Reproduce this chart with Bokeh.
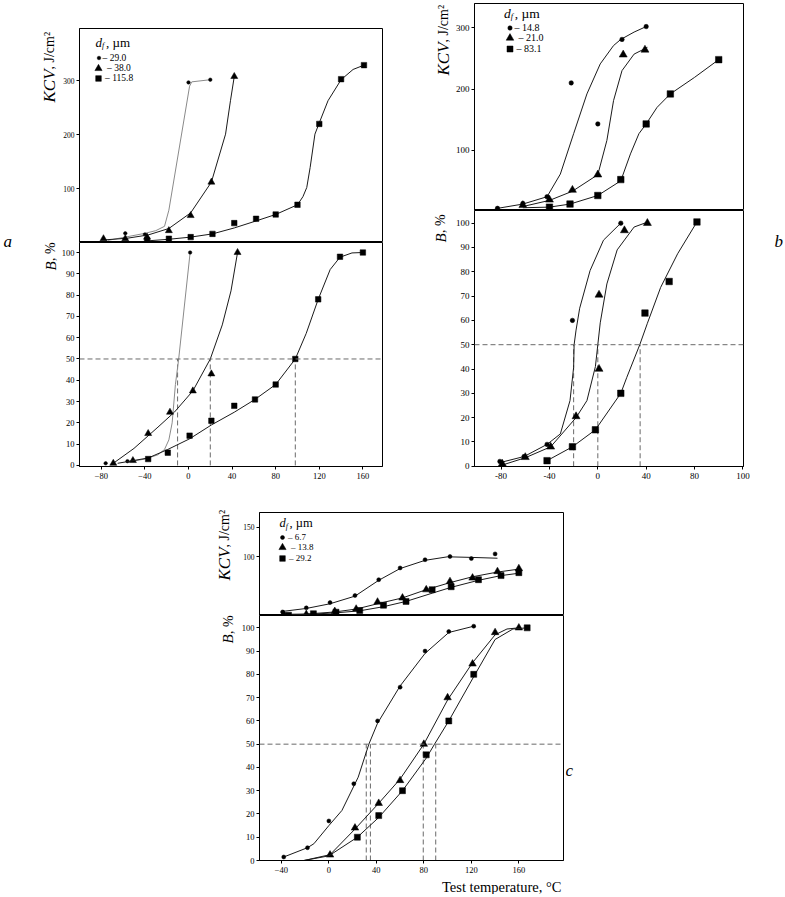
from math import pi
from bokeh.plotting import figure
from bokeh.models import FixedTicker, Span, Label, Legend, LegendItem, Range1d
from bokeh.layouts import column, row
from bokeh.embed import file_html
from bokeh.resources import INLINE
from bokeh.core.properties import value

SERIF = "Liberation Serif"
HALF = 50  # 50 % brittle fracture level

# ---------------- panel a : KCV ----------------
A_T_29 = [-58, -40, 0, 20]
A_K_29 = [17, 15, 297, 302]
A_T_38 = [-78, -58, -38, -18, 2, 21, 42]
A_K_38 = [7, 7, 10, 22, 50, 112, 308]
A_T_116 = [-38, -18, 2, 22, 42, 62, 80, 100, 120, 140, 161]
A_K_116 = [4, 7, 10, 16, 36, 44, 52, 70, 220, 303, 329]
A_CT_29 = [-74, -58, -40, -30, -22, -18, 1, 3, 20]
A_CK_29 = [4, 10, 17, 22, 30, 60, 290, 298, 302]
A_CT_38 = [-76, -56, -37, -18, 2, 21, 34, 38.5, 42]
A_CK_38 = [5, 8, 14, 26, 55, 112, 201, 263, 308]
A_CT_116 = [-38, -18, 2, 22, 42, 62, 80, 100, 105, 108.5, 111.6, 116, 120, 128, 140, 151, 161]
A_CK_116 = [3, 6, 10, 16, 27, 40, 52, 70, 85, 102, 139, 201, 222, 263, 302, 321, 329]
# ---------------- panel a : B ----------------
A_BT_29 = [-76, -56, 1.5]
A_B_29 = [1, 2, 100]
A_BT_38 = [-69, -51, -37, -17, 4, 21, 45]
A_B_38 = [1, 2.3, 15, 25, 35, 43, 100]
A_BT_116 = [-37, -19, 1, 21, 42, 61, 80, 98, 119, 139, 160]
A_B_116 = [3, 6, 14, 21, 28, 31, 38, 50, 78, 98, 100]
A_CBT_29 = [-57, -40, -28, -22, -18, -15, -12, -9, 1.5]
A_CB_29 = [1.5, 3, 5, 7.5, 12, 20, 38, 50, 100]
A_CBT_38 = [-69, -50, -28, -13, 4, 20, 31, 39, 45]
A_CB_38 = [1, 8, 18, 25, 35, 50, 66, 82, 100]
A_CBT_116 = [-65, -37, -19, 1, 21, 42, 61, 80, 98, 108, 119, 130, 139, 150, 160]
A_CB_116 = [1, 3.5, 7.5, 12.5, 19, 25, 31, 38, 50, 62, 78, 92, 97.8, 99.8, 100]
A_T50 = [-10, 20, 98]

# ---------------- panel b : KCV ----------------
B_T_148 = [-83, -62, -42, -22, 0, 20, 40]
B_K_148 = [5, 13, 24, 210, 143, 281, 302]
B_T_210 = [-62, -40, -21, 0, 21, 39]
B_K_210 = [10, 19, 35, 60, 256, 264]
B_T_831 = [-40, -23, 0, 19, 40, 60, 100]
B_K_831 = [7, 12, 26, 52, 143, 192, 248]
B_CT_148 = [-83, -62, -42, -31, -20, -9, 2, 13, 19, 30, 40]
B_CK_148 = [5, 12, 24, 61, 127, 192, 241, 271, 281, 293, 302]
B_CT_210 = [-62, -40, -21, 0, 7.5, 13, 20, 30, 41]
B_CK_210 = [8, 18, 33, 60, 116, 181, 230, 257, 268]
B_CT_831 = [-62, -40, -23, 0, 19, 27, 34, 40, 49, 60, 80, 100]
B_CK_831 = [6, 7, 12, 26, 50, 94, 127, 143, 170, 192, 219, 248]
# ---------------- panel b : B ----------------
B_BT_148 = [-81, -61, -42, -21, 19]
B_B_148 = [2, 4, 9, 60, 100]
B_BT_210 = [-79, -60, -39, -18, 1, 1, 22, 41]
B_B_210 = [1, 3.7, 8, 20.5, 40, 70.5, 97, 100]
B_BT_831 = [-42, -21, -2, 19, 39, 59, 82]
B_B_831 = [2.3, 8, 15, 30, 63, 76, 100.5]
B_CBT_148 = [-81, -61, -42, -31, -23, -20, -19.6, -18, -15, -6.4, 4.7, 19]
B_CB_148 = [1.5, 4, 9, 13.3, 27, 40.7, 50, 56, 65, 80.5, 93, 100]
B_CBT_210 = [-79, -60, -39, -18, -9, -2, 0, 2, 7.5, 16, 30, 41]
B_CB_210 = [0.5, 3.5, 8, 20, 27, 41, 50, 59, 75, 89, 98.4, 100.4]
B_CBT_831 = [-42, -21, -2, 19, 24, 34.7, 41, 52, 66, 82]
B_CB_831 = [2.3, 8, 15, 30, 36.6, 50, 58.8, 73.6, 87.4, 100.5]
B_T50 = [-20, 0, 35]

# ---------------- panel c : KCV ----------------
C_T_67 = [-39, -19, 1, 22, 42, 60, 81, 102, 120, 140]
C_K_67 = [6, 13, 22, 34, 61, 81, 95, 100.5, 97, 105]
C_T_138 = [-38, -19, 5, 23, 41, 62, 82, 102, 121, 142, 160]
C_K_138 = [2, 2, 7, 11, 23, 30, 44, 58, 64, 75, 80]
C_T_292 = [-34, -13, 6, 26, 46, 65, 87, 103, 126, 145, 160]
C_K_292 = [0.5, 3, 5.6, 8.5, 17.5, 24, 44, 49, 61, 68, 73]
C_CT_67 = [-39, -19, 1, 22, 42, 60, 81, 100, 120, 142]
C_CK_67 = [7, 12, 20, 33, 60, 80, 94, 100, 99, 97.6]
C_CT_138 = [-38, -19, 5, 23, 41, 62, 82, 102, 121, 142, 160]
C_CK_138 = [2, 2.5, 6, 11, 20, 30, 44, 56, 66, 74, 79]
C_CT_292 = [-34, -13, 6, 26, 46, 65, 87, 103, 126, 145, 160]
C_CK_292 = [1, 2.5, 4.5, 8, 15, 24, 38, 48, 60, 68, 72]
# ---------------- panel c : B ----------------
C_BT_67 = [-38, -18, 0, 21, 41, 60, 81, 101, 122]
C_B_67 = [1.5, 5.5, 17, 33, 60, 74.5, 90, 98.4, 100.7]
C_BT_138 = [1, 22, 42, 60, 80, 100, 121, 140, 160]
C_B_138 = [2.4, 14, 24.6, 34.4, 50, 70, 84.5, 98, 100]
C_BT_292 = [24, 42, 62, 82, 101, 122, 167]
C_B_292 = [10, 19.3, 30, 45.4, 60, 80, 100]
C_CBT_67 = [-38, -18, -12.6, 0, 11, 24.7, 33.7, 41, 60, 81, 101, 122]
C_CB_67 = [1.5, 5.5, 7.2, 15, 21.5, 35.8, 50, 59, 75, 89, 98, 100.7]
C_CBT_138 = [-21, 1, 22, 42, 60, 80, 100, 121, 140, 150, 160]
C_CB_138 = [0, 2.5, 13.5, 24.6, 35, 50, 69, 85, 97, 99.5, 100]
C_CBT_292 = [-21, 0, 24, 42, 62, 82, 89, 101, 122, 140, 155, 167]
C_CB_292 = [0, 2, 10, 18.5, 30, 44, 50, 60, 79, 95, 99.5, 100]
C_T50 = [31.5, 35, 79.5, 90]

# tick labels
A_XTICKS = [-80, -40, 0, 40, 80, 120, 160]
B_XTICKS = [-80, -40, 0, 40, 80, 120]
B_XLABELS = {-80: "-80", -40: "-40", 0: "0", 40: "40", 80: "80", 120: "100"}
C_XTICKS = [-40, 0, 40, 80, 120, 160]
KCV_TICKS_AB = [100, 200, 300]
KCV_TICKS_C = [100, 150]
B_TICKS = [0, 10, 20, 30, 40, 50, 60, 70, 80, 90, 100]

LEG_A = ["\u2013 29.0", "\u2013 38.0", "\u2013 115.8"]
LEG_B = ["\u2013 14.8", "\u2013 21.0", "\u2013 83.1"]
LEG_C = ["\u2013 6.7", "\u2013 13.8", "\u2013 29.2"]
KCV_NAME, KCV_UNIT = "KCV", ", J/cm\u00b2"
B_NAME, B_UNIT = "B", ", %"
X_TITLE = "Test temperature, \u00b0C"


def style_axis(ax, fs, standoff):
    ax.major_label_text_font = SERIF
    ax.major_label_text_font_size = f"{fs}px"
    ax.major_label_text_color = "black"
    ax.major_tick_out = 3
    ax.major_tick_in = 0
    ax.minor_tick_out = 0
    ax.minor_tick_in = 0
    ax.major_tick_line_color = "black"
    ax.axis_line_color = "black"
    ax.major_label_standoff = standoff


def base_fig(xr, yr, fw, fh, bl, br, bt, bb, show_x, yticks, ytick_fs,
             xticks=None, xtick_fs=9, overrides=None):
    p = figure(title=None, x_range=xr, y_range=yr, frame_width=fw, frame_height=fh,
               min_border_left=bl, min_border_right=br, min_border_top=bt,
               min_border_bottom=bb, output_backend="svg", toolbar_location=None,
               x_axis_location="below" if show_x else None, y_axis_location="left")
    p.grid.visible = False
    p.outline_line_color = "black"
    p.outline_line_width = 1
    p.border_fill_color = "white"
    p.background_fill_color = "white"
    ya = p.yaxis[0]
    ya.ticker = FixedTicker(ticks=yticks)
    style_axis(ya, ytick_fs, 2)
    if show_x:
        xa = p.xaxis[0]
        xa.ticker = FixedTicker(ticks=xticks)
        style_axis(xa, xtick_fs, 3)
        if overrides:
            xa.major_label_overrides = overrides
    return p


def strip(w, h, bl=0, br=0):
    """Blank figure whose frame covers a border area, used for outer texts."""
    p = figure(title=None, x_range=Range1d(0, w), y_range=Range1d(0, h),
               frame_width=w, frame_height=h, min_border_left=bl, min_border_right=br,
               min_border_top=0, min_border_bottom=0, output_backend="svg",
               toolbar_location=None, x_axis_location=None, y_axis_location=None)
    p.grid.visible = False
    p.outline_line_color = None
    p.border_fill_color = "white"
    p.background_fill_color = "white"
    return p


def strip_text(p, h, text, x, y_top, fs, italic=False, angle=0.0, align="left"):
    p.text(x=[x], y=[h - y_top], text=[text], angle=angle,
           text_font=value(SERIF), text_font_size=value(f"{fs}px"),
           text_font_style="italic" if italic else "normal",
           text_align=align, text_baseline="middle", text_color="black")


def series(p, xs, ys, cx, cy, marker, size, color="#1a1a1a"):
    p.line(cx, cy, line_color=color, line_width=1)
    return p.scatter(xs, ys, marker=marker, size=size, fill_color="black",
                     line_color="black", line_width=0.5)


def add_text(p, text, x, y, fs, italic=False, align="left", baseline="middle"):
    p.add_layout(Label(x=x, y=y, x_units="screen", y_units="screen", text=text,
                       text_font=SERIF, text_font_size=f"{fs}px",
                       text_font_style="italic" if italic else "normal",
                       text_align=align, text_baseline=baseline,
                       text_color="black"))


def add_key(p, r, label, cx, cy, tx, msize, fs):
    g = max(4, int(round(msize / 0.4)))
    leg = Legend(items=[LegendItem(label=label, renderers=[r])],
                 location=(cx - g / 2, cy - g / 2),
                 glyph_width=g, glyph_height=g, label_height=g, label_width=1,
                 label_standoff=int(round(tx - cx - g / 2)),
                 padding=0, margin=0, spacing=0,
                 border_line_color=None, background_fill_alpha=0.0,
                 label_text_font=SERIF, label_text_font_size=f"{fs}px",
                 label_text_color="black")
    p.add_layout(leg)


def add_title(p, x, y, fs):
    add_text(p, "d", x, y, fs, italic=True)
    add_text(p, "f", x + fs * 0.5, y - fs * 0.25, fs * 0.62, italic=True)
    add_text(p, ", \u00b5m", x + fs * 0.5 + fs * 0.3, y, fs)


def half_lines(p, t50):
    p.add_layout(Span(location=HALF, dimension="width", line_color="#6a6a6a",
                      line_width=1, line_dash="5 3"))
    p.segment(x0=t50, y0=[0] * len(t50), x1=t50, y1=[HALF] * len(t50),
              line_color="#6a6a6a", line_width=1, line_dash="5 3")


# ================= panel a =================
AX = Range1d(-100, 178)
a_top = base_fig(AX, Range1d(0, 397), 303, 214, 21, 1, 28, 0, False, KCV_TICKS_AB, 7.5)
r1 = series(a_top, A_T_29, A_K_29, A_CT_29, A_CK_29, "circle", 3.5, "#8a8a8a")
r2 = series(a_top, A_T_38, A_K_38, A_CT_38, A_CK_38, "triangle", 7)
r3 = series(a_top, A_T_116, A_K_116, A_CT_116, A_CK_116, "square", 5.5)
add_title(a_top, 16, 200, 13)
add_key(a_top, r1, LEG_A[0], 19, 184, 24, 3.5, 9.5)
add_key(a_top, r2, LEG_A[1], 19, 174, 24, 7, 9.5)
add_key(a_top, r3, LEG_A[2], 19, 164, 24, 5.5, 9.5)

a_bot = base_fig(AX, Range1d(-0.5, 104.7), 303, 224, 21, 1, 0, 30, True, B_TICKS, 8.5,
                 A_XTICKS, 8.5)
half_lines(a_bot, A_T50)
series(a_bot, A_BT_29, A_B_29, A_CBT_29, A_CB_29, "circle", 3.5, "#8a8a8a")
series(a_bot, A_BT_38, A_B_38, A_CBT_38, A_CB_38, "triangle", 7)
series(a_bot, A_BT_116, A_B_116, A_CBT_116, A_CB_116, "square", 5.5)

H1 = 496
sa = strip(58, H1)
strip_text(sa, H1, KCV_NAME, 48.5, 102, 17, italic=True, angle=pi / 2)
strip_text(sa, H1, KCV_UNIT, 48.5, 69, 14, angle=pi / 2)
strip_text(sa, H1, B_NAME, 50, 270, 15, italic=True, angle=pi / 2)
strip_text(sa, H1, B_UNIT, 50, 260.5, 14, angle=pi / 2)
strip_text(sa, H1, "a", 3, 241, 17, italic=True)

# ================= panel b =================
BX = Range1d(-102, 120.5)
b_top = base_fig(BX, Range1d(1.5, 339.7), 269, 207, 22, 10, 3, 0, False, KCV_TICKS_AB, 9)
s1 = series(b_top, B_T_148, B_K_148, B_CT_148, B_CK_148, "circle", 4.5)
s2 = series(b_top, B_T_210, B_K_210, B_CT_210, B_CK_210, "triangle", 8)
s3 = series(b_top, B_T_831, B_K_831, B_CT_831, B_CK_831, "square", 6.5)
add_title(b_top, 29.5, 197.5, 13.5)
add_key(b_top, s1, LEG_B[0], 35, 183, 41, 4.5, 10)
add_key(b_top, s2, LEG_B[1], 35, 172.5, 41, 7.5, 10)
add_key(b_top, s3, LEG_B[2], 35, 162, 41, 6, 10)

b_bot = base_fig(BX, Range1d(-0.1, 105.2), 269, 256, 22, 10, 0, 30, True, B_TICKS, 9,
                 B_XTICKS, 9, B_XLABELS)
half_lines(b_bot, B_T50)
series(b_bot, B_BT_148, B_B_148, B_CBT_148, B_CB_148, "circle", 4.5)
series(b_bot, B_BT_210, B_B_210, B_CBT_210, B_CB_210, "triangle", 8)
series(b_bot, B_BT_831, B_B_831, B_CBT_831, B_CB_831, "square", 6.5)

sb = strip(69, H1)
strip_text(sb, H1, KCV_NAME, 59.5, 75, 17, italic=True, angle=pi / 2)
strip_text(sb, H1, KCV_UNIT, 59.5, 42, 14, angle=pi / 2)
strip_text(sb, H1, B_NAME, 57, 242, 15, italic=True, angle=pi / 2)
strip_text(sb, H1, B_UNIT, 57, 232.5, 14, angle=pi / 2)

sb2 = strip(31, H1)
strip_text(sb2, H1, "b", 21, 241, 17, italic=True)

# ================= panel c =================
CX = Range1d(-58.4, 197.6)
c_top = base_fig(CX, Range1d(0, 175.5), 304, 103, 23, 2, 16, 0, False, KCV_TICKS_C, 7.5)
q1 = series(c_top, C_T_67, C_K_67, C_CT_67, C_CK_67, "circle", 4)
q2 = series(c_top, C_T_138, C_K_138, C_CT_138, C_CK_138, "triangle", 7.5)
q3 = series(c_top, C_T_292, C_K_292, C_CT_292, C_CK_292, "square", 6)
add_title(c_top, 20, 92.5, 12.5)
add_key(c_top, q1, LEG_C[0], 23, 78.5, 29, 4, 9)
add_key(c_top, q2, LEG_C[1], 23, 68, 29, 7, 9)
add_key(c_top, q3, LEG_C[2], 23, 57.5, 29, 5.5, 9)

c_bot = base_fig(CX, Range1d(0, 105.3), 304, 245, 23, 2, 0, 17, True, B_TICKS, 8.5,
                 C_XTICKS, 8.5)
half_lines(c_bot, C_T50)
series(c_bot, C_BT_67, C_B_67, C_CBT_67, C_CB_67, "circle", 4)
series(c_bot, C_BT_138, C_B_138, C_CBT_138, C_CB_138, "triangle", 7.5)
series(c_bot, C_BT_292, C_B_292, C_CBT_292, C_CB_292, "square", 6)

H2 = 398
sc_bottom = strip(304, 17, bl=23, br=2)
strip_text(sc_bottom, 17, X_TITLE, 302, 9, 14.5, align="right")

sc = strip(236, H2)
strip_text(sc, H2, KCV_NAME, 224, 84, 17, italic=True, angle=pi / 2)
strip_text(sc, H2, KCV_UNIT, 224, 51, 14, angle=pi / 2)
strip_text(sc, H2, B_NAME, 227.5, 147, 15, italic=True, angle=pi / 2)
strip_text(sc, H2, B_UNIT, 227.5, 137.5, 14, angle=pi / 2)

sc2 = strip(35, H2)
strip_text(sc2, H2, "c", 0, 274, 17, italic=True)

row1 = row(sa, column(a_top, a_bot), sb, column(b_top, b_bot), sb2)
row2 = row(sc, column(c_top, c_bot, sc_bottom), sc2)
layout = column(row1, row2)
open("out.html", "w").write(file_html(layout, INLINE))
